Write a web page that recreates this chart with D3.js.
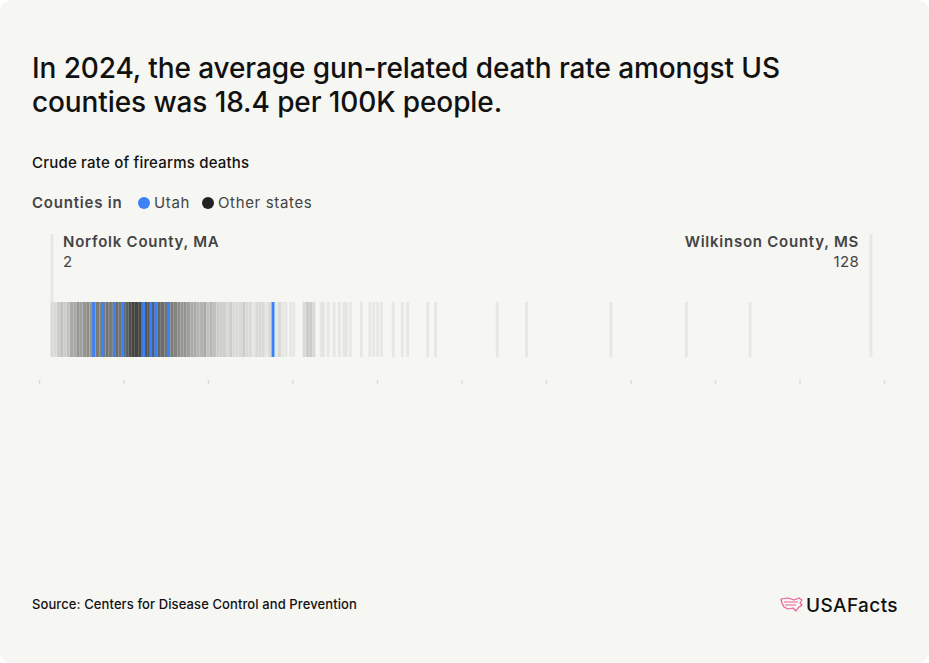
<!DOCTYPE html>
<html lang="en">
<head>
<meta charset="utf-8">
<script src="https://cdn.jsdelivr.net/npm/d3@7"></script>
<style>
  body { margin: 0; background: #fff; }
  svg text { font-family: Inter, "Noto Sans", sans-serif; }
</style>
</head>
<body>
<svg id="chart" width="929" height="663"></svg>
<script>
// crude firearm death rate per 100K, counties outside Utah
// (dense part read as 0.5-wide steps: rate and how many counties sit on it)
var otherRates = [
  2.0, 2.5, 3.0, 3.5, 4.0, 4.5, 5.0, 5.5, 6.0, 6.5,
  7.0, 7.5, 8.0, 8.5, 9.0, 9.5, 10.0, 10.5, 11.0, 11.5,
  12.0, 12.5, 13.0, 13.5, 14.0, 14.5, 15.0, 15.5, 16.0, 16.5,
  17.0, 17.5, 18.0, 18.5, 19.0, 19.5, 20.0, 20.5, 21.0, 21.5,
  22.0, 22.5, 23.0, 23.5, 24.0, 24.5, 25.0, 25.5, 26.0, 26.5,
  27.0, 27.5, 28.0, 28.5, 29.0, 29.5, 30.0, 30.5, 31.0, 31.5,
  32.0, 32.5, 33.0, 33.5, 34.0, 34.5, 35.0, 35.5, 36.5, 37.0,
  37.5, 38.0, 38.7, 39.2, 40.8, 41.3, 41.8, 42.3, 43.4, 43.8,
  44.5, 45.4, 46.2, 46.9, 47.3, 47.9, 49.6, 50.9, 51.5, 52.1,
  52.7, 54.5, 55.9, 56.7, 59.8, 61.0, 70.5, 75.0, 88.0, 99.6,
  109.4, 128
];
var otherCounts = [
  2, 2, 3, 4, 3, 4, 6, 6, 8, 7,
  8, 9, 8, 9, 11, 10, 11, 12, 11, 12,
  13, 12, 14, 15, 18, 20, 20, 19, 17, 17,
  16, 16, 14, 14, 13, 12, 11, 11, 10, 9,
  8, 8, 7, 6, 6, 5, 5, 6, 4, 5,
  4, 3, 3, 3, 2, 3, 2, 2, 2, 3,
  2, 2, 1, 2, 2, 2, 1, 2, 1, 2,
  1, 1, 1, 1, 2, 3, 3, 2, 1, 1,
  1, 1, 1, 1, 1, 1, 1, 1, 1, 1,
  1, 1, 1, 1, 1, 1, 1, 1, 1, 1,
  1, 1
];
var utahRates = [8.4, 9.8, 11.6, 12.9, 16.1, 17.2, 18.0, 19.9, 36.0];

var extremeNames = ["Norfolk County, MA", "Wilkinson County, MS"];
var extremeRates = [2, 128];

var legendLabels = ["Utah", "Other states"];
var legendColors = ["#3b82f6", "#222222"];

var svg = d3.select("#chart");
var W = 929, H = 663;

svg.append("rect")
  .attr("width", W).attr("height", H)
  .attr("rx", 12)
  .attr("fill", "#f6f6f2");

// title
var title = ["In 2024, the average gun-related death rate amongst US",
             "counties was 18.4 per 100K people."];
svg.selectAll(".title")
  .data(title)
  .enter().append("text")
  .attr("class", "title")
  .attr("x", 32)
  .attr("y", function(d, i) { return 78 + i * 34; })
  .attr("font-size", 28)
  .attr("font-weight", 500)
  .attr("letter-spacing", -0.1)
  .attr("fill", "#111")
  .text(function(d) { return d; });

svg.append("text")
  .attr("x", 32).attr("y", 168)
  .attr("font-size", 15)
  .attr("font-weight", 500)
  .attr("letter-spacing", 0.2)
  .attr("fill", "#111")
  .text("Crude rate of firearms deaths");

// legend
svg.append("text")
  .attr("x", 32).attr("y", 208)
  .attr("font-size", 15)
  .attr("font-weight", 600)
  .attr("letter-spacing", 0.8)
  .attr("fill", "#444")
  .text("Counties in");

var legX = [144, 208];
legendLabels.forEach(function(l, i) {
  svg.append("circle")
    .attr("cx", legX[i]).attr("cy", 203).attr("r", 6)
    .attr("fill", legendColors[i]);
  svg.append("text")
    .attr("x", legX[i] + 10).attr("y", 208)
    .attr("font-size", 15)
    .attr("letter-spacing", 0.65)
    .attr("fill", "#444")
    .text(l);
});

// strip
var x = d3.scaleLinear().domain([0, 130]).range([39, 884]);
var stripTop = 302, stripH = 55, lineW = 3;

var others = [];
otherRates.forEach(function(r, i) {
  for (var k = 0; k < otherCounts[i]; k++) others.push(r);
});

svg.append("g")
  .selectAll("rect")
  .data(others)
  .enter().append("rect")
  .attr("x", function(d) { return x(d) - lineW / 2; })
  .attr("y", stripTop)
  .attr("width", lineW)
  .attr("height", stripH)
  .attr("fill", "#000")
  .attr("fill-opacity", 0.06);

svg.append("g")
  .selectAll("rect")
  .data(utahRates)
  .enter().append("rect")
  .attr("x", function(d) { return x(d) - lineW / 2; })
  .attr("y", stripTop)
  .attr("width", lineW)
  .attr("height", stripH)
  .attr("fill", legendColors[0]);

// extremes annotations
extremeRates.forEach(function(r, i) {
  svg.append("rect")
    .attr("x", x(r) - lineW / 2)
    .attr("y", 234)
    .attr("width", lineW)
    .attr("height", stripTop - 234)
    .attr("fill", "#000")
    .attr("fill-opacity", 0.06);
  var tx = i === 0 ? x(r) + 11 : x(r) - 12;
  var anchor = i === 0 ? "start" : "end";
  svg.append("text")
    .attr("x", tx).attr("y", 247)
    .attr("text-anchor", anchor)
    .attr("font-size", 15)
    .attr("font-weight", 600)
    .attr("letter-spacing", 0.75)
    .attr("fill", "#444")
    .text(extremeNames[i]);
  svg.append("text")
    .attr("x", tx).attr("y", 267)
    .attr("text-anchor", anchor)
    .attr("font-size", 15)
    .attr("letter-spacing", 0.3)
    .attr("fill", "#444")
    .text(r);
});

// faint axis ticks, no labels
var axis = svg.append("g")
  .attr("transform", "translate(0,380)")
  .call(d3.axisBottom(x).tickValues(d3.range(0, 131, 13)).tickSize(4).tickFormat(""));
axis.select(".domain").remove();
axis.selectAll(".tick line").attr("stroke", "#dcdcd8").attr("stroke-width", 1.5);

// footer
svg.append("text")
  .attr("x", 32).attr("y", 609)
  .attr("font-size", 13)
  .attr("font-weight", 500)
  .attr("letter-spacing", 0.1)
  .attr("fill", "#111")
  .text("Source: Centers for Disease Control and Prevention");

// logo: small US outline + wordmark
var logo = svg.append("g").attr("transform", "translate(780,597)");
logo.append("path")
  .attr("d", "M1,2 L8,1 L14,3 L19,1 L22,3 L20,6 L22,8 L18,11 L16,14 L13,11 L8,12 L4,10 L2,6 Z M4,5 L18,5 M5,8 L16,8")
  .attr("fill", "none")
  .attr("stroke", "#ec5d9b")
  .attr("stroke-width", 1.2)
  .attr("stroke-linejoin", "round");
svg.append("text")
  .attr("x", 806).attr("y", 612)
  .attr("font-size", 19)
  .attr("font-weight", 500)
  .attr("letter-spacing", 0.4)
  .attr("fill", "#111")
  .text("USAFacts");
</script>
</body>
</html>
